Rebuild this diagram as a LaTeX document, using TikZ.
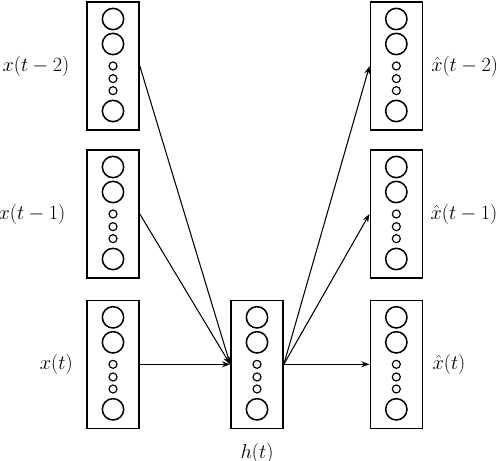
\documentclass[tikz,border=0pt]{standalone}
\usepackage{tikz}
\usetikzlibrary{positioning}
\usetikzlibrary{arrows.meta}
\tikzset{
    layer/.style = {rectangle, draw=black, line width=1.4pt, minimum width=1.56cm, minimum height=3.84cm, inner sep=0pt},
    unitbig/.style = {circle, draw=black, line width=1.3pt, minimum size=0.64cm, inner sep=0pt},
    unitsmall/.style = {circle, draw=black, line width=1pt, minimum size=0.24cm, inner sep=0pt},
    edgen/.style = {-{Stealth[length=7pt,width=5pt]}, line width=0.9pt},
    lab/.style = {font=\fontsize{16}{19}\selectfont}
}
\begin{document}
\begin{tikzpicture}
  \useasboundingbox (0,0) rectangle (15,13.83);

  % input, hidden and output layers
  \node[layer, label={[lab,label distance=0.38cm]left:$x(t-2)$}] (in1) at (3.39,11.85) {};
  \node[layer, label={[lab,label distance=0.5cm]left:$x(t-1)$}] (in2) at (3.39,7.41) {};
  \node[layer, label={[lab,label distance=0.28cm]left:$x(t)$}] (in3) at (3.39,2.90) {};
  \node[layer, label={[lab,label distance=0.3cm]below:$h(t)$}] (hid) at (7.71,2.90) {};
  \node[layer, label={[lab,label distance=0.12cm]right:$\hat{x}(t-2)$}] (out1) at (11.89,11.85) {};
  \node[layer, label={[lab,label distance=0.1cm]right:$\hat{x}(t-1)$}] (out2) at (11.89,7.41) {};
  \node[layer, label={[lab,label distance=0.16cm]right:$\hat{x}(t)$}] (out3) at (11.89,2.90) {};

  % units in every layer
  \foreach \n in {in1,in2,in3,hid,out1,out2,out3}{
    \node[unitbig, yshift=1.41cm] (\n-a) at (\n) {};
    \node[unitbig, yshift=0.66cm] (\n-b) at (\n) {};
    \node[unitsmall] (\n-c) at (\n) {};
    \node[unitsmall, yshift=-0.38cm] (\n-d) at (\n) {};
    \node[unitsmall, yshift=-0.74cm] (\n-e) at (\n) {};
    \node[unitbig, yshift=-1.35cm] (\n-f) at (\n) {};
  }

  % connections
  \foreach \n in {in1,in2,in3}
    \draw[edgen] (\n.east) -- (hid.west);
  \foreach \n in {out1,out2,out3}
    \draw[edgen] (hid.east) -- (\n.west);
\end{tikzpicture}
\end{document}
